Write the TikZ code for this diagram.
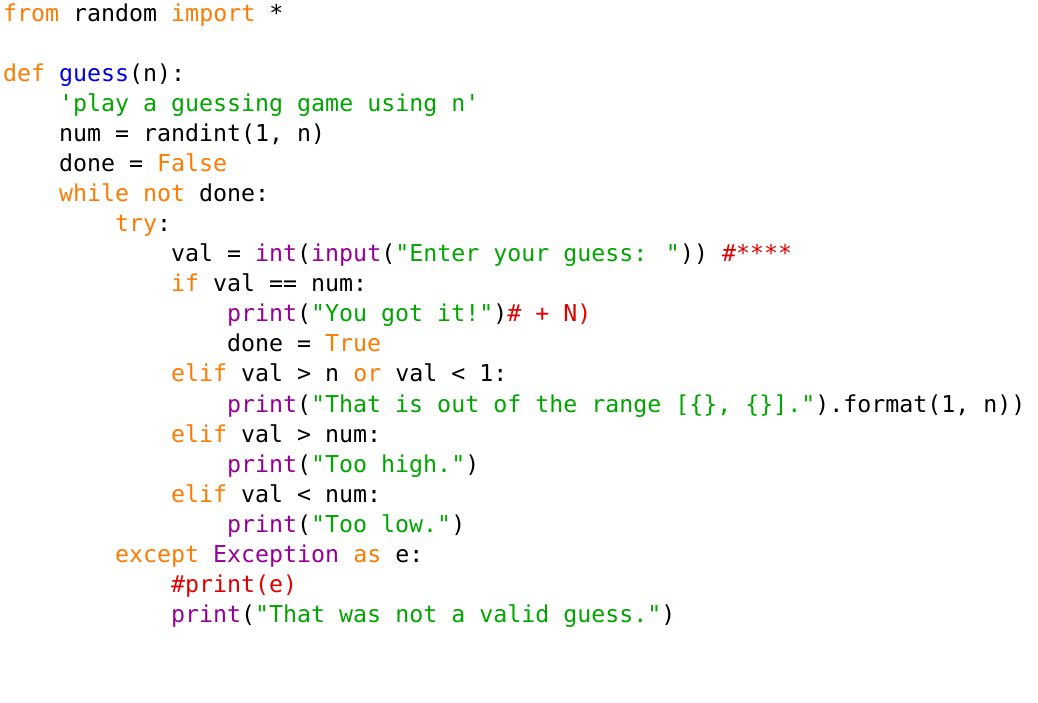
\documentclass[tikz,border=0pt]{standalone}
\usepackage{fontspec}
\newfontfamily\code{DejaVu Sans Mono}
\definecolor{kw}{RGB}{255,122,0}
\definecolor{fn}{RGB}{0,0,230}
\definecolor{st}{RGB}{0,165,0}
\definecolor{bi}{RGB}{150,0,150}
\definecolor{cm}{RGB}{225,0,0}
\newcommand\K[1]{\textcolor{kw}{#1}}
\newcommand\F[1]{\textcolor{fn}{#1}}
\newcommand\Sq[1]{\textcolor{st}{#1}}
\newcommand\B[1]{\textcolor{bi}{#1}}
\newcommand\C[1]{\textcolor{cm}{#1}}
\tikzset{ln/.style={anchor=base west,inner sep=0pt,font=\code\fontsize{23.26}{28}\selectfont}}
\begin{document}
\begin{tikzpicture}[x=1pt,y=1pt]
\useasboundingbox (0,0) rectangle (1038,702);
\def\L#1#2#3{\node[ln] (l#1) at ({3+14*#2},{702-22-30*#1}) {#3};}
\L{0}{0}{\K{from} random \K{import} *}
\L{2}{0}{\K{def} \F{guess}(n):}
\L{3}{4}{\Sq{\symbol{39}play a guessing game using n\symbol{39}}}
\L{4}{4}{num = randint(1, n)}
\L{5}{4}{done = \K{False}}
\L{6}{4}{\K{while} \K{not} done:}
\L{7}{8}{\K{try}:}
\L{8}{12}{val = \B{int}(\B{input}(\Sq{"Enter your guess: "})) \C{\#****}}
\L{9}{12}{\K{if} val == num:}
\L{10}{16}{\B{print}(\Sq{"You got it!"})\C{\# + N)}}
\L{11}{16}{done = \K{True}}
\L{12}{12}{\K{elif} val > n \K{or} val < 1:}
\L{13}{16}{\B{print}(\Sq{"That is out of the range [\{\}, \{\}]."}).format(1, n))}
\L{14}{12}{\K{elif} val > num:}
\L{15}{16}{\B{print}(\Sq{"Too high."})}
\L{16}{12}{\K{elif} val < num:}
\L{17}{16}{\B{print}(\Sq{"Too low."})}
\L{18}{8}{\K{except} \B{Exception} \K{as} e:}
\L{19}{12}{\C{\#print(e)}}
\L{20}{12}{\B{print}(\Sq{"That was not a valid guess."})}
\end{tikzpicture}
\end{document}
